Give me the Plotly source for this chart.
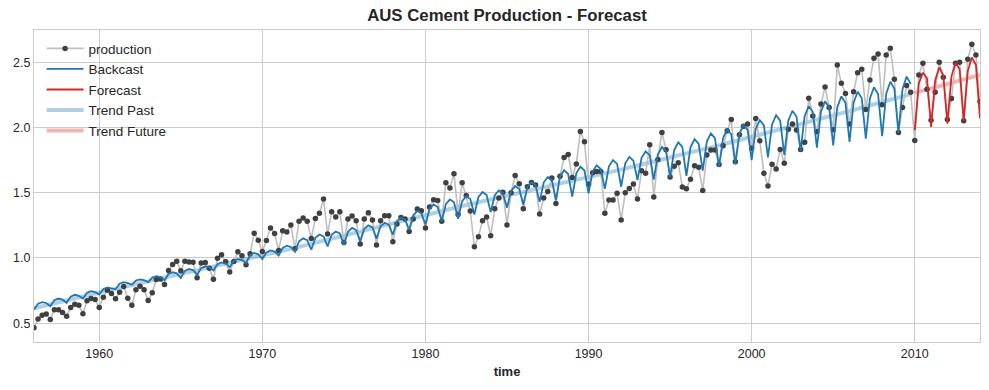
import plotly.graph_objects as go

# quarterly time index: 1956Q1 .. 2014Q1
start_year = 1956
n_quarters = 233
n_train = 216  # 1956Q1 .. 2009Q4

production = [
    0.465, 0.532, 0.561, 0.570,  # 1956
    0.529, 0.604, 0.603, 0.582,  # 1957
    0.554, 0.620, 0.646, 0.637,  # 1958
    0.573, 0.673, 0.690, 0.681,  # 1959
    0.621, 0.698, 0.753, 0.728,  # 1960
    0.688, 0.737, 0.782, 0.692,  # 1961
    0.637, 0.757, 0.783, 0.757,  # 1962
    0.674, 0.734, 0.835, 0.838,  # 1963
    0.797, 0.904, 0.949, 0.975,  # 1964
    0.902, 0.974, 0.969, 0.967,  # 1965
    0.849, 0.961, 0.966, 0.922,  # 1966
    0.836, 0.998, 1.025, 0.971,  # 1967
    0.892, 0.973, 1.047, 1.017,  # 1968
    0.948, 1.032, 1.190, 1.136,  # 1969
    1.049, 1.134, 1.229, 1.188,  # 1970
    1.058, 1.209, 1.199, 1.253,  # 1971
    1.070, 1.282, 1.306, 1.281,  # 1972
    1.150, 1.303, 1.342, 1.451,  # 1973
    1.183, 1.354, 1.313, 1.354,  # 1974
    1.119, 1.298, 1.321, 1.285,  # 1975
    1.107, 1.298, 1.346, 1.290,  # 1976
    1.099, 1.285, 1.323, 1.323,  # 1977
    1.125, 1.260, 1.310, 1.298,  # 1978
    1.203, 1.298, 1.375, 1.362,  # 1979
    1.230, 1.391, 1.447, 1.440,  # 1980
    1.281, 1.577, 1.537, 1.645,  # 1981
    1.334, 1.577, 1.478, 1.360,  # 1982
    1.086, 1.162, 1.286, 1.314,  # 1983
    1.170, 1.377, 1.460, 1.503,  # 1984
    1.253, 1.500, 1.632, 1.569,  # 1985
    1.377, 1.546, 1.578, 1.560,  # 1986
    1.336, 1.459, 1.509, 1.613,  # 1987
    1.418, 1.627, 1.770, 1.793,  # 1988
    1.617, 1.720, 1.969, 1.890,  # 1989
    1.564, 1.653, 1.663, 1.663,  # 1990
    1.342, 1.444, 1.444, 1.495,  # 1991
    1.291, 1.500, 1.533, 1.566,  # 1992
    1.452, 1.668, 1.650, 1.868,  # 1993
    1.467, 1.755, 1.962, 1.830,  # 1994
    1.621, 1.702, 1.730, 1.543,  # 1995
    1.531, 1.603, 1.707, 1.696,  # 1996
    1.517, 1.789, 1.828, 1.828,  # 1997
    1.716, 1.860, 1.975, 2.061,  # 1998
    1.738, 1.945, 2.010, 2.026,  # 1999
    1.840, 2.069, 1.898, 1.649,  # 2000
    1.552, 1.718, 1.681, 1.832,  # 2001
    1.725, 1.987, 2.026, 1.980,  # 2002
    1.832, 1.887, 2.224, 2.087,  # 2003
    1.967, 2.179, 2.310, 2.154,  # 2004
    1.983, 2.478, 2.338, 2.261,  # 2005
    2.026, 2.274, 2.420, 2.446,  # 2006
    2.138, 2.364, 2.531, 2.564,  # 2007
    2.174, 2.556, 2.608, 2.369,  # 2008
    1.962, 2.154, 2.321, 2.269,  # 2009
    1.900, 2.403, 2.492, 2.292,  # 2010
    2.056, 2.269, 2.500, 2.385,  # 2011
    2.062, 2.223, 2.492, 2.500,  # 2012
    2.051, 2.523, 2.638, 2.556,  # 2013
    2.200,                       # 2014
]

backcast = [
    0.605, 0.649, 0.662, 0.655,  # 1956
    0.630, 0.676, 0.689, 0.681,  # 1957
    0.656, 0.704, 0.718, 0.710,  # 1958
    0.690, 0.733, 0.745, 0.738,  # 1959
    0.720, 0.763, 0.775, 0.768,  # 1960
    0.760, 0.803, 0.815, 0.808,  # 1961
    0.795, 0.826, 0.835, 0.830,  # 1962
    0.815, 0.850, 0.860, 0.854,  # 1963
    0.830, 0.877, 0.890, 0.882,  # 1964
    0.847, 0.901, 0.916, 0.907,  # 1965
    0.872, 0.922, 0.936, 0.928,  # 1966
    0.905, 0.953, 0.966, 0.958,  # 1967
    0.930, 0.978, 0.992, 0.984,  # 1968
    0.962, 1.021, 1.038, 1.028,  # 1969
    0.992, 1.043, 1.058, 1.049,  # 1970
    1.018, 1.077, 1.094, 1.084,  # 1971
    1.048, 1.128, 1.150, 1.137,  # 1972
    1.063, 1.154, 1.180, 1.165,  # 1973
    1.089, 1.178, 1.203, 1.188,  # 1974
    1.100, 1.201, 1.230, 1.213,  # 1975
    1.127, 1.223, 1.250, 1.234,  # 1976
    1.148, 1.243, 1.270, 1.254,  # 1977
    1.178, 1.281, 1.310, 1.293,  # 1978
    1.216, 1.328, 1.360, 1.341,  # 1979
    1.256, 1.376, 1.410, 1.390,  # 1980
    1.282, 1.412, 1.449, 1.427,  # 1981
    1.300, 1.436, 1.474, 1.451,  # 1982
    1.333, 1.467, 1.505, 1.483,  # 1983
    1.351, 1.481, 1.518, 1.496,  # 1984
    1.385, 1.514, 1.551, 1.529,  # 1985
    1.410, 1.543, 1.580, 1.558,  # 1986
    1.430, 1.578, 1.620, 1.595,  # 1987
    1.444, 1.623, 1.673, 1.643,  # 1988
    1.470, 1.649, 1.700, 1.670,  # 1989
    1.495, 1.663, 1.710, 1.682,  # 1990
    1.530, 1.702, 1.750, 1.721,  # 1991
    1.546, 1.725, 1.775, 1.745,  # 1992
    1.597, 1.768, 1.816, 1.788,  # 1993
    1.600, 1.795, 1.850, 1.818,  # 1994
    1.620, 1.827, 1.886, 1.851,  # 1995
    1.630, 1.848, 1.910, 1.874,  # 1996
    1.670, 1.892, 1.955, 1.918,  # 1997
    1.700, 1.922, 1.985, 1.948,  # 1998
    1.720, 1.954, 2.020, 1.981,  # 1999
    1.750, 1.989, 2.056, 2.016,  # 2000
    1.770, 2.023, 2.094, 2.052,  # 2001
    1.790, 2.054, 2.128, 2.084,  # 2002
    1.820, 2.088, 2.163, 2.118,  # 2003
    1.845, 2.122, 2.200, 2.154,  # 2004
    1.862, 2.155, 2.238, 2.189,  # 2005
    1.890, 2.190, 2.274, 2.224,  # 2006
    1.915, 2.222, 2.308, 2.257,  # 2007
    1.933, 2.259, 2.351, 2.297,  # 2008
    1.959, 2.295, 2.390, 2.334,  # 2009
]

forecast = [
    1.980, 2.338, 2.420, 2.377,  # 2010
    2.005, 2.360, 2.460, 2.400,  # 2011
    2.030, 2.390, 2.497, 2.446,  # 2012
    2.050, 2.430, 2.536, 2.480,  # 2013
    2.070,                       # 2014
]

trend_past = [
    0.615, 0.623, 0.630, 0.638,  # 1956
    0.645, 0.653, 0.660, 0.668,  # 1957
    0.675, 0.683, 0.690, 0.698,  # 1958
    0.705, 0.713, 0.720, 0.728,  # 1959
    0.735, 0.742, 0.749, 0.756,  # 1960
    0.763, 0.770, 0.777, 0.784,  # 1961
    0.791, 0.798, 0.805, 0.812,  # 1962
    0.819, 0.826, 0.833, 0.840,  # 1963
    0.847, 0.854, 0.861, 0.868,  # 1964
    0.875, 0.882, 0.889, 0.896,  # 1965
    0.903, 0.910, 0.917, 0.924,  # 1966
    0.931, 0.938, 0.945, 0.952,  # 1967
    0.959, 0.966, 0.973, 0.980,  # 1968
    0.987, 0.994, 1.001, 1.008,  # 1969
    1.015, 1.023, 1.031, 1.038,  # 1970
    1.046, 1.054, 1.062, 1.069,  # 1971
    1.077, 1.085, 1.093, 1.100,  # 1972
    1.108, 1.116, 1.124, 1.131,  # 1973
    1.139, 1.147, 1.155, 1.162,  # 1974
    1.170, 1.178, 1.187, 1.195,  # 1975
    1.203, 1.211, 1.220, 1.228,  # 1976
    1.236, 1.244, 1.253, 1.261,  # 1977
    1.269, 1.277, 1.286, 1.294,  # 1978
    1.302, 1.310, 1.319, 1.327,  # 1979
    1.335, 1.342, 1.349, 1.356,  # 1980
    1.363, 1.370, 1.377, 1.384,  # 1981
    1.391, 1.398, 1.405, 1.412,  # 1982
    1.419, 1.426, 1.433, 1.440,  # 1983
    1.447, 1.454, 1.461, 1.468,  # 1984
    1.475, 1.482, 1.489, 1.496,  # 1985
    1.503, 1.510, 1.517, 1.524,  # 1986
    1.531, 1.538, 1.545, 1.552,  # 1987
    1.559, 1.566, 1.573, 1.580,  # 1988
    1.587, 1.594, 1.601, 1.608,  # 1989
    1.615, 1.623, 1.631, 1.638,  # 1990
    1.646, 1.654, 1.662, 1.669,  # 1991
    1.677, 1.685, 1.693, 1.700,  # 1992
    1.708, 1.716, 1.724, 1.731,  # 1993
    1.739, 1.747, 1.755, 1.762,  # 1994
    1.770, 1.778, 1.786, 1.793,  # 1995
    1.801, 1.809, 1.817, 1.824,  # 1996
    1.832, 1.840, 1.848, 1.855,  # 1997
    1.863, 1.871, 1.879, 1.886,  # 1998
    1.894, 1.902, 1.910, 1.917,  # 1999
    1.925, 1.933, 1.942, 1.950,  # 2000
    1.958, 1.966, 1.975, 1.983,  # 2001
    1.991, 1.999, 2.008, 2.016,  # 2002
    2.024, 2.032, 2.041, 2.049,  # 2003
    2.057, 2.065, 2.074, 2.082,  # 2004
    2.090, 2.099, 2.108, 2.116,  # 2005
    2.125, 2.134, 2.143, 2.151,  # 2006
    2.160, 2.169, 2.178, 2.186,  # 2007
    2.195, 2.204, 2.213, 2.221,  # 2008
    2.230, 2.239, 2.248, 2.256,  # 2009
]

trend_future = [
    2.265, 2.274, 2.282, 2.291,  # 2010
    2.299, 2.308, 2.316, 2.325,  # 2011
    2.333, 2.342, 2.350, 2.359,  # 2012
    2.367, 2.376, 2.384, 2.393,  # 2013
    2.401,                       # 2014
]

x_ticks = [1960, 1970, 1980, 1990, 2000, 2010]
y_ticks = [0.5, 1.0, 1.5, 2.0, 2.5]

# time axis positions (quarter ordinals as decimal years)
t = [start_year + i / 4 for i in range(n_quarters)]
t_past = t[:n_train]
t_future = t[n_train:]

FONT = "Liberation Sans, Arial, sans-serif"

fig = go.Figure()
fig.add_trace(go.Scatter(
    x=t_past, y=trend_past, mode="lines", name="Trend Past",
    line=dict(color="rgba(31,119,180,0.35)", width=4), legendrank=4))
fig.add_trace(go.Scatter(
    x=t_future, y=trend_future, mode="lines", name="Trend Future",
    line=dict(color="rgba(214,39,40,0.35)", width=4), legendrank=5))
fig.add_trace(go.Scatter(
    x=t, y=production, mode="lines+markers", name="production",
    line=dict(color="#bfbfbf", width=1.6),
    marker=dict(color="#404040", size=5.5, line=dict(width=0)), legendrank=1))
fig.add_trace(go.Scatter(
    x=t_past, y=backcast, mode="lines", name="Backcast",
    line=dict(color="#1f77b4", width=1.8), legendrank=2))
fig.add_trace(go.Scatter(
    x=t_future, y=forecast, mode="lines", name="Forecast",
    line=dict(color="#d62728", width=1.8), legendrank=3))

fig.update_layout(
    width=989, height=390,
    margin=dict(l=34, r=9, t=30, b=48),
    paper_bgcolor="white", plot_bgcolor="white",
    font=dict(family=FONT, size=13, color="#262626"),
    title=dict(text="<b>AUS Cement Production - Forecast</b>",
               x=0.5, xref="paper", xanchor="center",
               y=1, yref="container", yanchor="top", pad=dict(t=9),
               font=dict(size=16.8, color="#262626")),
    showlegend=True,
    legend=dict(x=0.008, y=0.99, xanchor="left", yanchor="top",
                bgcolor="rgba(0,0,0,0)", font=dict(size=13.5, color="#262626"),
                itemwidth=37, traceorder="normal"),
    xaxis=dict(range=[1956, 2014], tickvals=x_ticks,
               ticktext=[str(v) for v in x_ticks],
               showgrid=True, gridcolor="#cccccc", gridwidth=1,
               showline=True, linecolor="#cccccc", linewidth=1, mirror=True,
               zeroline=False, ticks="", tickfont=dict(size=12.5),
               title=dict(text="<b>time</b>", font=dict(size=13), standoff=6)),
    yaxis=dict(range=[0.356, 2.747], tickvals=y_ticks,
               ticktext=[f"{v:.1f}" for v in y_ticks],
               showgrid=True, gridcolor="#cccccc", gridwidth=1,
               showline=True, linecolor="#cccccc", linewidth=1, mirror=True,
               zeroline=False, ticks="", tickfont=dict(size=12.5)),
)

# remove the default page margin so the figure sits at the window origin
fig.write_html("out.html", include_plotlyjs=True,
               config={"displayModeBar": False},
               post_script="document.body.style.margin='0';document.body.style.padding='0';")
